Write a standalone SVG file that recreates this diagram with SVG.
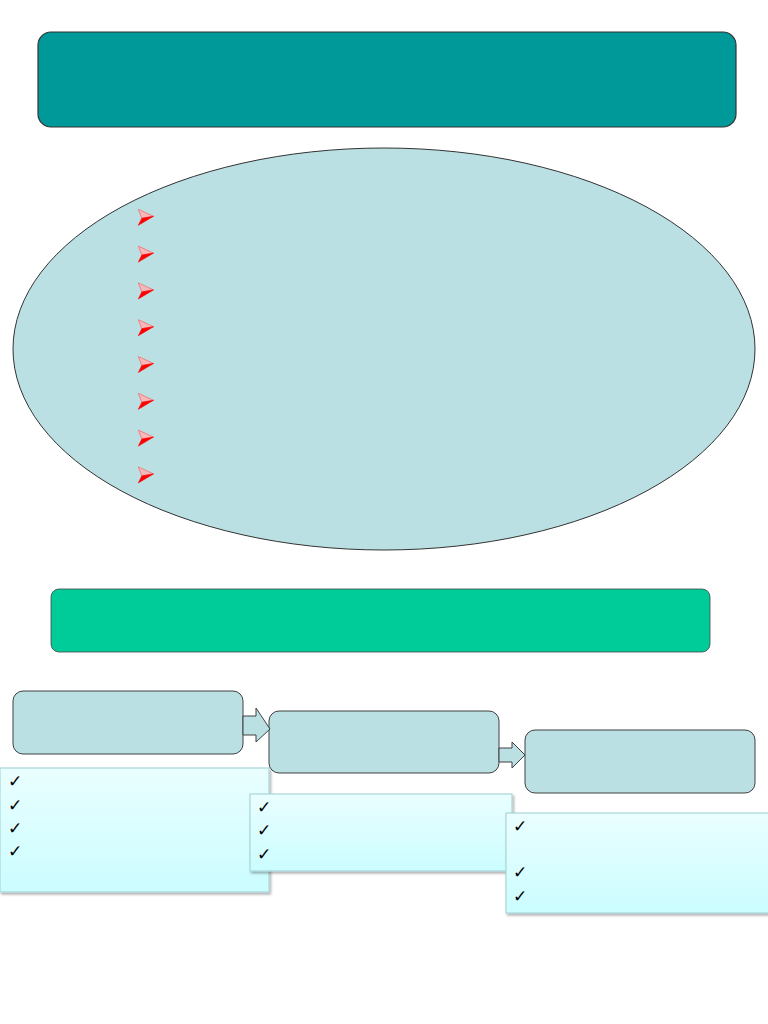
<svg xmlns="http://www.w3.org/2000/svg" width="768" height="1024" viewBox="0 0 768 1024">
<style>
.box{fill:#BBE0E3;stroke:#404040;stroke-width:1}
.arr{fill:#BBE0E3;stroke:#404040;stroke-width:1}
.panel{fill:url(#pg);stroke:#A9D6D9;stroke-width:1.2}
.chk{font-family:"DejaVu Sans",sans-serif;font-size:17px;font-weight:bold;fill:#000}
</style>
<defs>
<linearGradient id="pg" x1="0" y1="0" x2="0" y2="1">
<stop offset="0" stop-color="#EAFEFF"/>
<stop offset="1" stop-color="#CBFDFF"/>
</linearGradient>
<filter id="sh" x="-5%" y="-5%" width="110%" height="115%">
<feDropShadow dx="1.5" dy="2" stdDeviation="1.2" flood-color="#000" flood-opacity="0.3"/>
</filter>
<g id="bul">
<polygon points="138.3,209.3 153.5,216.3 141.8,218.3" fill="#F7B8BB" stroke="#F07070" stroke-width="0.8"/>
<polygon points="141.8,218.3 153.5,216.3 138.3,225.3" fill="#FF0000" stroke="#FF0000" stroke-width="0.6"/>
</g>
</defs>

<g id="title">
<rect x="38" y="32" width="698" height="95" rx="13" fill="#009999" stroke="#333" stroke-width="1.2"/>
</g>

<g id="ellipse">
<ellipse cx="384" cy="349" rx="371" ry="201" fill="#BBE0E3" stroke="#333" stroke-width="1"/>
<use href="#bul"/>
<use href="#bul" y="36.8"/>
<use href="#bul" y="73.6"/>
<use href="#bul" y="110.4"/>
<use href="#bul" y="147.2"/>
<use href="#bul" y="184"/>
<use href="#bul" y="220.8"/>
<use href="#bul" y="257.6"/>
</g>

<g id="greenbar">
<rect x="51" y="589" width="659" height="63" rx="8" fill="#00CC99" stroke="#444" stroke-width="0.8"/>
</g>

<g id="panel1">
<rect class="panel" x="0" y="768" width="269" height="124" filter="url(#sh)"/>
<text class="chk" x="8" y="787">✓</text>
<text class="chk" x="8" y="811">✓</text>
<text class="chk" x="8" y="834">✓</text>
<text class="chk" x="8" y="857">✓</text>
</g>

<g id="panel2">
<rect class="panel" x="250" y="794" width="262" height="77" filter="url(#sh)"/>
<text class="chk" x="257" y="813">✓</text>
<text class="chk" x="257" y="836">✓</text>
<text class="chk" x="257" y="860">✓</text>
</g>

<g id="panel3">
<rect class="panel" x="506" y="813" width="264" height="100" filter="url(#sh)"/>
<text class="chk" x="513" y="832">✓</text>
<text class="chk" x="513" y="878">✓</text>
<text class="chk" x="513" y="902">✓</text>
</g>

<g id="box1">
<rect class="box" x="13" y="691" width="230" height="63" rx="10"/>
</g>
<g id="box2">
<rect class="box" x="269" y="711" width="230" height="62" rx="10"/>
</g>
<g id="box3">
<rect class="box" x="525" y="730" width="230" height="63" rx="10"/>
</g>

<g id="connectors">
<polygon class="arr" points="243,716 256,716 256,708 270,729 256,742 256,735 243,735"/>
<polygon class="arr" points="499,748 512,748 512,742 525,755 512,768 512,762 499,762"/>
</g>
</svg>
